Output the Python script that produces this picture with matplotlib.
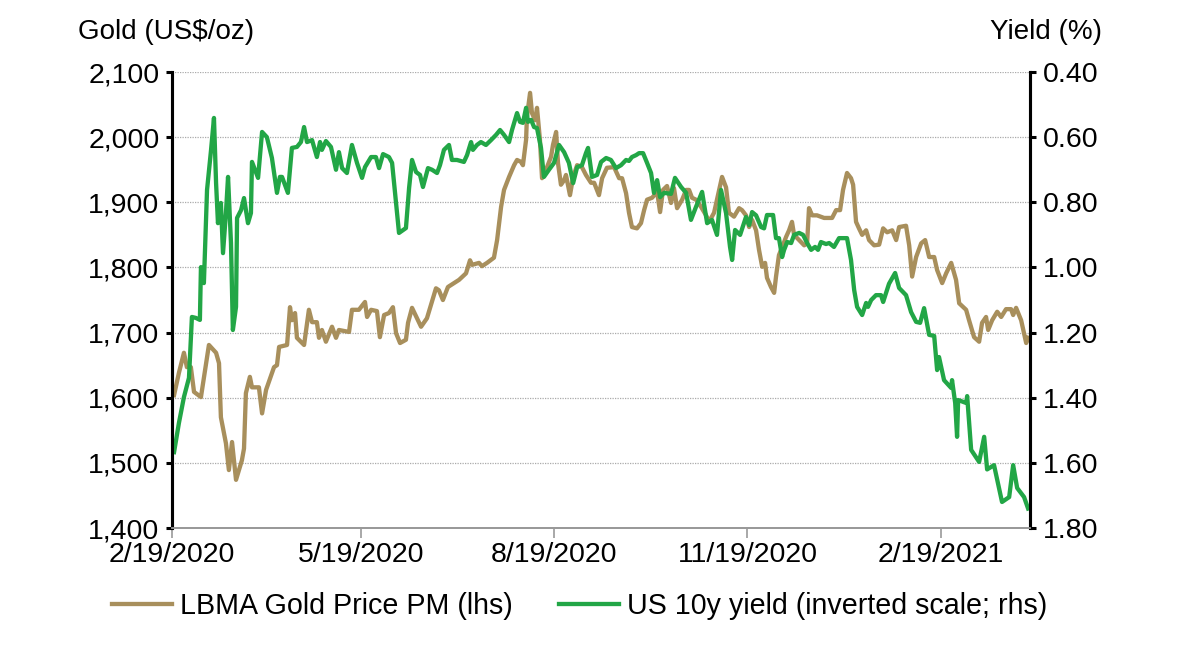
import matplotlib
matplotlib.use("Agg")
import matplotlib.pyplot as plt
import matplotlib.ticker as mticker
import numpy as np
import pandas as pd

plt.rcParams['font.family'] = ['Liberation Sans', 'DejaVu Sans']

# data (days after 2/19/2020)
start = pd.Timestamp('2020-02-19')

gold_day = [1, 3.3, 5.7, 7.1, 9, 10.5, 13.8, 17.6, 21, 22.4, 23.3, 25.7, 27.1, 28.6, 30.5,
            33.3, 34.3, 35.2, 37.1, 38.1, 41.4, 42.9, 44.8, 48.6, 50, 51, 54.8, 56.2, 57.1,
            58.6, 59.5, 62.9, 65.2, 66.7, 69, 70, 71.4, 73.3, 76.2, 78.1, 79.5, 84.3, 85.7,
            89, 91.9, 92.9, 94.8, 97.6, 99, 101, 103.3, 105.2, 106.7, 108.6, 111.4, 112.4,
            114.3, 118.6, 121.4, 125.7, 127.1, 129, 131.4, 134.3, 136.7, 140, 141.9, 142.9,
            146.2, 147.6, 150, 153.3, 154.8, 156.7, 158.1, 160.5, 162.9, 164.3, 166.2, 167.1,
            168.6, 169, 170.5, 171.4, 172.9, 173.8, 175.2, 176.2, 178.1, 180.5, 181.4, 182.9,
            183.8, 185.2, 186.7, 187.6, 189.5, 191, 192.9, 195.2, 197.1, 199.5, 201, 203.3,
            204.8, 207.1, 210.5, 212.9, 214.3, 216.2, 217.6, 219, 221.4, 223.3, 224.8, 226.2,
            228.6, 231, 232.4, 233.8, 235.7, 237.6, 239, 240.5, 242.9, 244.8, 246.2, 247.6,
            249.5, 251.9, 254.3, 255.7, 258.1, 260.5, 261.9, 263.8, 265.2, 267.6, 270, 271.4,
            273.3, 274.8, 276.2, 278.1, 279.5, 281, 282.4, 283.3, 285.2, 286.7, 287.6, 289,
            290.5, 292.4, 293.8, 295.2, 296.2, 298.6, 301, 302.4, 303.3, 304.8, 307.1, 310.5,
            314.3, 316.2, 318.1, 319.5, 321.4, 323.3, 324.3, 325.7, 327.1, 328.6, 330.5, 331.9,
            334.3, 336.7, 338.6, 340.5, 342.9, 344.8, 346.2, 349.5, 351, 352.4, 354.3, 356.7,
            358.6, 360.5, 362.9, 364.3, 366.7, 368.6, 371, 373.3, 374.8, 378.1, 379.5, 381.9,
            384.3, 385.7, 387.6, 388.6, 390.5, 392.9, 394.8, 397.1, 399.5, 400.5, 401.9, 404.3,
            406.7, 407.6]
gold_px = [1604, 1638, 1669, 1647, 1647, 1609, 1601, 1681, 1669, 1653, 1570, 1530, 1489, 1532, 1474,
           1504, 1522, 1607, 1632, 1616, 1616, 1576, 1612, 1647, 1650, 1678, 1681, 1739, 1719,
           1730, 1692, 1681, 1735, 1716, 1716, 1692, 1704, 1686, 1709, 1692, 1704, 1701, 1735,
           1735, 1747, 1724, 1735, 1733, 1693, 1727, 1730, 1739, 1699, 1684, 1689, 1715,
           1738, 1709, 1722, 1768, 1765, 1750, 1770, 1776, 1781, 1791, 1811, 1804,
           1807, 1802, 1807, 1815, 1842, 1893, 1919, 1939, 1957, 1965, 1962, 1957,
           1996, 2031, 2068, 2037, 2026, 2045, 1996, 1937, 1950, 1970, 1988, 2008,
           1960, 1927, 1934, 1942, 1911, 1939, 1957, 1954, 1942, 1930, 1930, 1911,
           1937, 1953, 1954, 1937, 1937, 1914, 1884, 1862, 1860, 1868, 1888, 1904,
           1907, 1916, 1885, 1919, 1925, 1899, 1922, 1891, 1904, 1919, 1919, 1907,
           1904, 1893, 1880, 1870, 1884, 1919, 1939, 1923, 1884, 1878, 1891, 1888,
           1880, 1862, 1873, 1857, 1827, 1801, 1807, 1784, 1770, 1761, 1786, 1819,
           1831, 1847, 1857, 1870, 1850, 1842, 1834, 1837, 1891, 1880, 1880, 1876,
           1876, 1888, 1888, 1919, 1945, 1937, 1927, 1870, 1860, 1850, 1857, 1842,
           1834, 1835, 1860, 1854, 1857, 1842, 1862, 1864, 1834, 1786, 1816, 1837,
           1842, 1816, 1816, 1796, 1776, 1791, 1807, 1781, 1745, 1735, 1719, 1693,
           1686, 1715, 1724, 1704, 1719, 1732, 1724, 1736, 1736, 1727, 1738, 1719,
           1684, 1692]

yld_day = [1, 3.3, 5.7, 8.1, 9.5, 11.4, 13.3, 13.8, 15.2, 16.7, 18.6, 20, 21, 21.9, 23.3, 24.3,
           25.7, 26.7, 28.1, 29, 30.5, 31, 32.9, 34.3, 36.2, 37.6, 38.1, 39.5, 41, 42.9, 45.2,
           47.6, 50, 51.4, 52.4, 55.2, 57.1, 59.5, 61.4, 62.9, 64.3, 66.7, 69, 70.5, 71.4, 73.3,
           75.7, 78.1, 79.5, 81, 83.3, 85.7, 88.1, 90.5, 91.9, 94.8, 97.1, 98.6, 100.5, 103.3,
           104.8, 106.7, 108.1, 111.4, 112.9, 114.3, 116.2, 118.1, 119.5, 121.9, 123.8, 126.2,
           127.6, 129.5, 131.9, 133.3, 135.7, 139, 140.5, 142.4, 143.3, 145.2, 147.1, 149.5,
           151.9, 154.3, 156.2, 158.1, 160.5, 161.9, 164.3, 165.7, 167.1, 168.6, 169.5, 171,
           172.4, 173.8, 175.7, 177.1, 179.5, 181.9, 184.3, 186.7, 189, 191, 192.9, 195.2,
           197.1, 198.1, 200, 202.4, 204.3, 206.7, 209, 211.4, 213.8, 216.2, 217.6, 219, 221,
           222.4, 224.3, 226.2, 228.1, 229.5, 231, 232.4, 234.3, 237.6, 239.5, 242.4, 244.8,
           247.1, 249.5, 252.4, 254.8, 257.1, 259.5, 261.4, 263.8, 265.7, 266.7, 268.1, 270.5,
           273.3, 274.8, 276.2, 278.1, 280.5, 281.9, 283.3, 286.2, 287.6, 289, 290.5, 291.4,
           292.9, 294.8, 296.2, 298.6, 300.5, 302.4, 304.3, 306.2, 307.6, 309, 311.4, 312.9,
           315.2, 317.6, 321.4, 323.3, 324.8, 326.2, 328.6, 330.5, 331.4, 332.9, 335.2, 337.6,
           338.6, 341.4, 344.3, 346.2, 349.5, 351.9, 354.3, 356.2, 358.1, 360.5, 362.9, 364.3,
           365.2, 367.6, 371, 371.4, 372.9, 373.8, 374.3, 378.1, 378.6, 380.5, 384.3, 386.7,
           388.1, 391.4, 395.2, 398.6, 400.5, 402.4, 405.7, 407.6]
yld_pct = [1.567, 1.478, 1.398, 1.339, 1.152, 1.155, 1.161, 0.999, 1.048, 0.762, 0.64, 0.541, 0.741,
           0.864, 0.802, 0.956, 0.833, 0.722, 0.925, 1.192, 1.121, 0.848, 0.824, 0.787, 0.864,
           0.833, 0.676, 0.70, 0.725, 0.584, 0.60, 0.664, 0.771, 0.722, 0.722, 0.771, 0.633,
           0.630, 0.615, 0.569, 0.615, 0.609, 0.661, 0.615, 0.639, 0.612, 0.63, 0.70, 0.646,
           0.695, 0.71, 0.624, 0.679, 0.725, 0.692, 0.661, 0.661, 0.695, 0.652, 0.661, 0.679,
           0.802, 0.894, 0.879, 0.756, 0.670, 0.707, 0.716, 0.753, 0.695, 0.70, 0.71, 0.686,
           0.639, 0.624, 0.670, 0.670, 0.676, 0.655, 0.615, 0.639, 0.624, 0.615, 0.624, 0.609,
           0.593, 0.578, 0.593, 0.615, 0.578, 0.526, 0.553, 0.556, 0.51, 0.553, 0.547, 0.569,
           0.572, 0.633, 0.722, 0.70, 0.679, 0.624, 0.646, 0.679, 0.741, 0.692, 0.686, 0.649,
           0.633, 0.722, 0.716, 0.676, 0.664, 0.670, 0.695, 0.686, 0.670, 0.673, 0.661, 0.655,
           0.649, 0.649, 0.679, 0.71, 0.771, 0.732, 0.784, 0.771, 0.774, 0.725, 0.753, 0.771,
           0.854, 0.814, 0.768, 0.864, 0.854, 0.90, 0.762, 0.833, 0.937, 0.977, 0.885, 0.90,
           0.845, 0.87, 0.83, 0.84, 0.876, 0.88, 0.839, 0.839, 0.91, 0.91, 0.968, 0.947,
           0.922, 0.925, 0.90, 0.894, 0.90, 0.925, 0.946, 0.937, 0.946, 0.922, 0.928, 0.925,
           0.937, 0.91, 0.91, 0.977, 1.069, 1.121, 1.146, 1.109, 1.121, 1.10, 1.085, 1.085,
           1.106, 1.05, 1.017, 1.063, 1.085, 1.137, 1.167, 1.17, 1.125, 1.207, 1.21, 1.315,
           1.275, 1.346, 1.37, 1.346, 1.416, 1.52, 1.407, 1.416, 1.395, 1.56, 1.597, 1.52,
           1.62, 1.607, 1.72, 1.705, 1.607, 1.677, 1.705, 1.74]

tick_dates = ['2020-02-19', '2020-05-19', '2020-08-19', '2020-11-19', '2021-02-19']
tick_labels = ['2/19/2020', '5/19/2020', '8/19/2020', '11/19/2020', '2/19/2021']

gold_x = start + pd.to_timedelta(gold_day, unit='D')
yld_x = start + pd.to_timedelta(yld_day, unit='D')

gold_col = '#a88f5c'
green_col = '#22a646'
fs = 20.5

fig = plt.figure(figsize=(12, 6.7), dpi=100)
ax = fig.add_axes([0.1433, 0.2119, 0.715, 0.6806])
ax2 = ax.twinx()

l1, = ax.plot(gold_x, gold_px, color=gold_col, lw=3.1, label='LBMA Gold Price PM (lhs)')
l2, = ax2.plot(yld_x, yld_pct, color=green_col, lw=3.1, label='US 10y yield (inverted scale; rhs)')

ax.set_xlim(start, start + pd.Timedelta(days=408.5))
ax.set_ylim(1400, 2100)
ax.set_yticks(np.arange(1400, 2101, 100))
ax.yaxis.set_major_formatter(mticker.FuncFormatter(lambda v, p: f'{v:,.0f}'))
ax2.set_ylim(1.80, 0.40)
ax2.set_yticks(np.arange(0.4, 1.81, 0.2))
ax2.yaxis.set_major_formatter(mticker.FormatStrFormatter('%.2f'))

ax.set_xticks(pd.to_datetime(tick_dates))
ax.set_xticklabels(tick_labels)

ax.grid(axis='y', color='#aaaaaa', linestyle=(0, (1, 1)), lw=0.9)
ax.set_axisbelow(True)

for a in (ax, ax2):
    a.spines['top'].set_visible(False)
    a.spines['left'].set_linewidth(2.2)
    a.spines['right'].set_linewidth(2.2)
    a.spines['bottom'].set_color('#999999')
    a.spines['bottom'].set_linewidth(1.3)
ax.tick_params(axis='y', labelsize=fs, length=4, width=2.2, pad=5)
ax2.tick_params(axis='y', labelsize=fs, length=4, width=2.2, pad=5)
ax.tick_params(axis='x', labelsize=fs, length=7, width=1.2, color='#999999', pad=3)

fig.text(0.065, 0.952, 'Gold (US$/oz)', fontsize=20, ha='left', va='center')
fig.text(0.918, 0.952, 'Yield (%)', fontsize=20, ha='right', va='center')

fig.legend(handles=[l1, l2], loc='center', bbox_to_anchor=(0.483, 0.095), ncol=2,
           frameon=False, fontsize=20.6, handlelength=2.1, handletextpad=0.3,
           columnspacing=1.6)

fig.savefig('out.png', dpi=100)
